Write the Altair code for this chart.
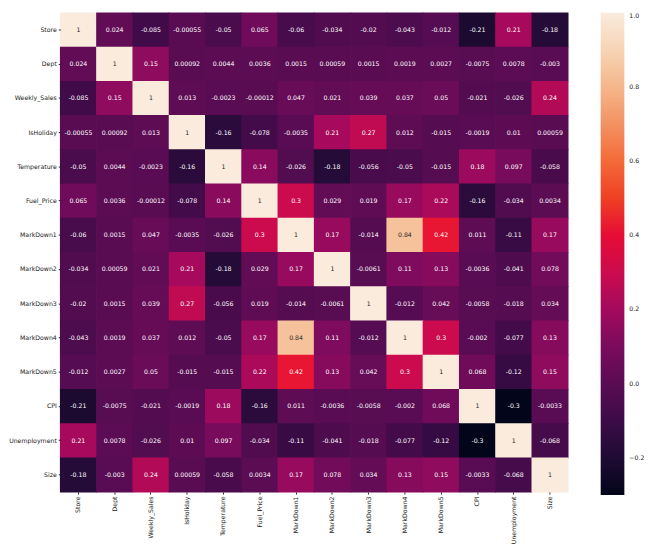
import altair as alt
import pandas as pd

cols = ["Store", "Dept", "Weekly_Sales", "IsHoliday", "Temperature", "Fuel_Price",
        "MarkDown1", "MarkDown2", "MarkDown3", "MarkDown4", "MarkDown5", "CPI",
        "Unemployment", "Size"]

r_store = [1, 0.024, -0.085, -0.00055, -0.05, 0.065, -0.06, -0.034, -0.02, -0.043, -0.012, -0.21, 0.21, -0.18]
r_dept = [0.024, 1, 0.15, 0.00092, 0.0044, 0.0036, 0.0015, 0.00059, 0.0015, 0.0019, 0.0027, -0.0075, 0.0078, -0.003]
r_sales = [-0.085, 0.15, 1, 0.013, -0.0023, -0.00012, 0.047, 0.021, 0.039, 0.037, 0.05, -0.021, -0.026, 0.24]
r_hol = [-0.00055, 0.00092, 0.013, 1, -0.16, -0.078, -0.0035, 0.21, 0.27, 0.012, -0.015, -0.0019, 0.01, 0.00059]
r_temp = [-0.05, 0.0044, -0.0023, -0.16, 1, 0.14, -0.026, -0.18, -0.056, -0.05, -0.015, 0.18, 0.097, -0.058]
r_fuel = [0.065, 0.0036, -0.00012, -0.078, 0.14, 1, 0.3, 0.029, 0.019, 0.17, 0.22, -0.16, -0.034, 0.0034]
r_md1 = [-0.06, 0.0015, 0.047, -0.0035, -0.026, 0.3, 1, 0.17, -0.014, 0.84, 0.42, 0.011, -0.11, 0.17]
r_md2 = [-0.034, 0.00059, 0.021, 0.21, -0.18, 0.029, 0.17, 1, -0.0061, 0.11, 0.13, -0.0036, -0.041, 0.078]
r_md3 = [-0.02, 0.0015, 0.039, 0.27, -0.056, 0.019, -0.014, -0.0061, 1, -0.012, 0.042, -0.0058, -0.018, 0.034]
r_md4 = [-0.043, 0.0019, 0.037, 0.012, -0.05, 0.17, 0.84, 0.11, -0.012, 1, 0.3, -0.002, -0.077, 0.13]
r_md5 = [-0.012, 0.0027, 0.05, -0.015, -0.015, 0.22, 0.42, 0.13, 0.042, 0.3, 1, 0.068, -0.12, 0.15]
r_cpi = [-0.21, -0.0075, -0.021, -0.0019, 0.18, -0.16, 0.011, -0.0036, -0.0058, -0.002, 0.068, 1, -0.3, -0.0033]
r_unemp = [0.21, 0.0078, -0.026, 0.01, 0.097, -0.034, -0.11, -0.041, -0.018, -0.077, -0.12, -0.3, 1, -0.068]
r_size = [-0.18, -0.003, 0.24, 0.00059, -0.058, 0.0034, 0.17, 0.078, 0.034, 0.13, 0.15, -0.0033, -0.068, 1]

rows = [r_store, r_dept, r_sales, r_hol, r_temp, r_fuel, r_md1, r_md2, r_md3,
        r_md4, r_md5, r_cpi, r_unemp, r_size]

records = []
for i, rname in enumerate(cols):
    for j, cname in enumerate(cols):
        v = rows[i][j]
        records.append({"row": rname, "col": cname, "value": v,
                        "label": format(v, ".2g")})
df = pd.DataFrame(records)

# colour ramp (rocket-like)
ramp_stops = [-0.3, -0.2, -0.1, 0.0, 0.1, 0.2, 0.3, 0.4, 0.5, 0.6, 0.7, 0.8, 0.9, 1.0]
ramp_colors = ["#03051a", "#1f0b34", "#3c0b47", "#5a0c53", "#7a0b5d", "#a30a5d",
               "#cc0b4e", "#e60c35", "#ef4024", "#f36a38", "#f39262", "#f5b68b",
               "#f7d4b5", "#faebdd"]

FONT = "DejaVu Sans"
FS = 6.3

scale = alt.Scale(domain=ramp_stops, range=ramp_colors, interpolate="rgb")

base = alt.Chart(df).encode(
    x=alt.X("col:N", sort=cols, title=None,
            axis=alt.Axis(labelAngle=270, labelFont=FONT, labelFontSize=FS,
                          labelColor="#222222", tickSize=2, tickColor="#222222",
                          labelPadding=2, domain=False, grid=False)),
    y=alt.Y("row:N", sort=cols, title=None,
            axis=alt.Axis(labelFont=FONT, labelFontSize=FS, labelColor="#222222",
                          tickSize=2, tickColor="#222222", labelPadding=2,
                          domain=False, grid=False)),
)

rects = base.mark_rect(strokeWidth=0, width={"band": 1.02}, height={"band": 1.02}).encode(
    color=alt.Color("value:Q", scale=scale,
                    legend=alt.Legend(title=None, orient="right", offset=33,
                                      gradientLength=489, gradientThickness=24,
                                      values=[-0.2, 0.0, 0.2, 0.4, 0.6, 0.8, 1.0],
                                      format=".1f", labelFont=FONT,
                                      labelFontSize=FS, labelColor="#222222",
                                      labelOffset=5, labelBaseline="middle",
                                      labelOverlap=False, gradientStrokeWidth=0)),
)

texts = base.mark_text(font=FONT, fontSize=FS).encode(
    text="label:N",
    color=alt.condition("datum.value > 0.6", alt.value("#262626"), alt.value("#ffffff")),
)

chart = alt.layer(rects, texts).properties(
    width=515, height=486, padding={"left": 0, "top": 0, "right": 5, "bottom": 5}
).configure_view(stroke=None)

chart.save("out.html", embed_options={"renderer": "svg", "actions": False})
